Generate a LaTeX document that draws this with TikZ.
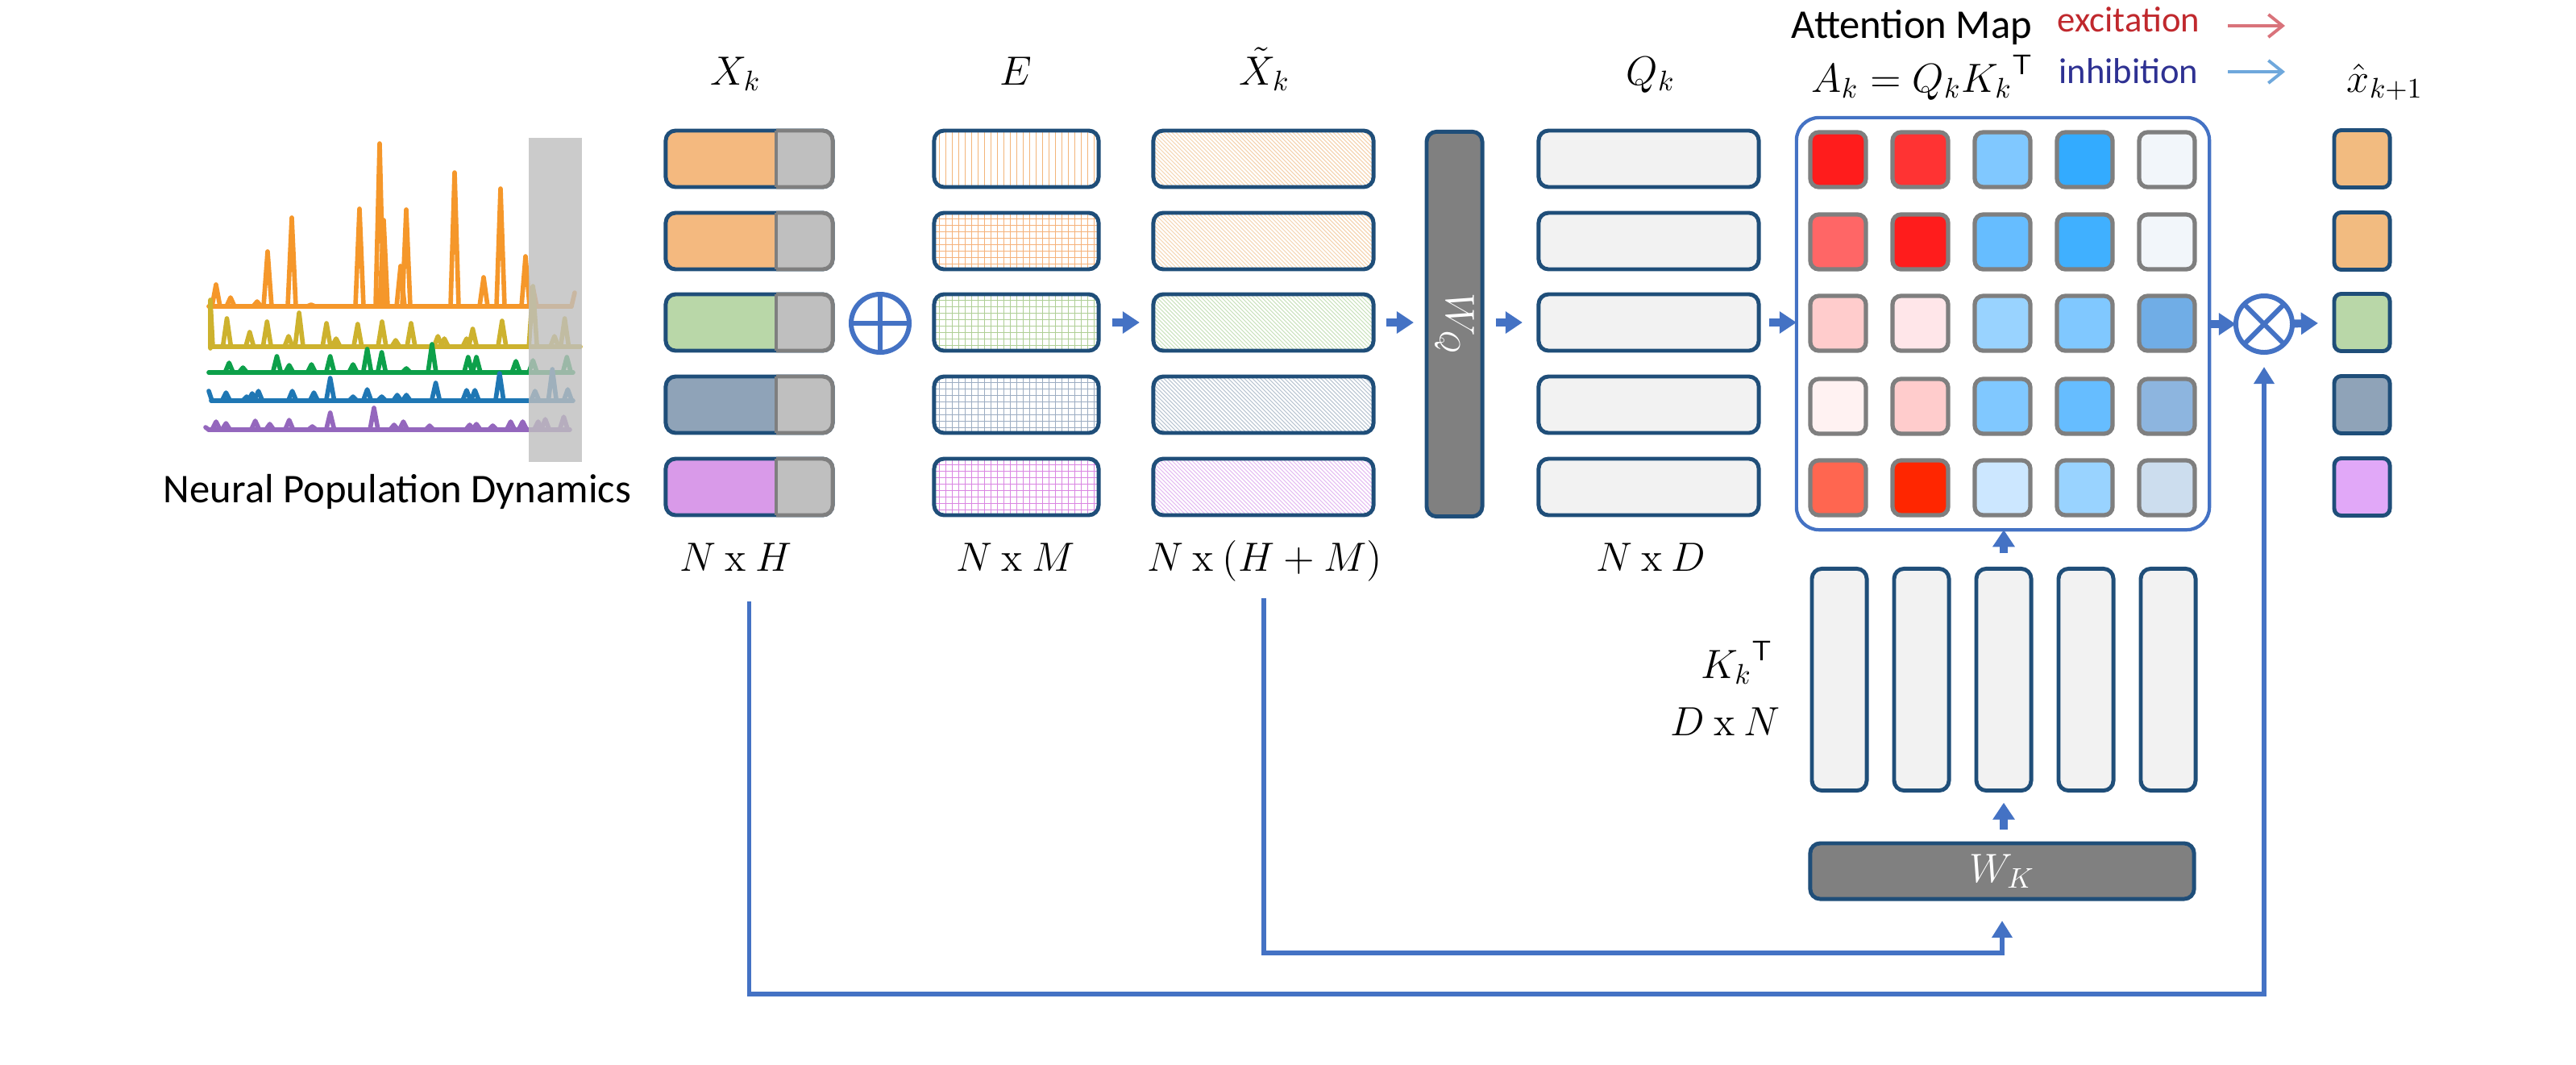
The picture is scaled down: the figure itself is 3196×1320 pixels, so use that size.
\documentclass[tikz,border=0pt]{standalone}
\usepackage[no-math]{fontspec}
\setmainfont{Carlito}
\usetikzlibrary{arrows.meta,calc}
\definecolor{dkblue}{HTML}{1F4E79}
\definecolor{abl}{HTML}{4472C4}
\definecolor{gbord}{HTML}{7F7F7F}
\definecolor{gfill}{HTML}{BFBFBF}
\definecolor{qfill}{HTML}{F2F2F2}
\definecolor{wfill}{HTML}{808080}
\definecolor{tor}{HTML}{F5972A}
\definecolor{tol}{HTML}{CDB22E}
\definecolor{tgr}{HTML}{0DA04A}
\definecolor{tbl}{HTML}{1F77B4}
\definecolor{tpu}{HTML}{9467BD}
\definecolor{excol}{HTML}{C0282D}
\definecolor{incol}{HTML}{2E3192}
\definecolor{exarr}{HTML}{D9737B}
\definecolor{inarr}{HTML}{6FA8DC}
\tikzset{
 box/.style={draw=dkblue, line width=1.4pt, rounded corners=3.5pt, inner sep=0pt, outer sep=0pt},
 cell/.style={draw=gbord, line width=1.5pt, rounded corners=3pt, inner sep=0pt, outer sep=0pt, minimum width=0.69cm, minimum height=0.68cm},
 conn/.style={draw=abl, line width=1.7pt},
 blk/.style={draw=abl, line width=2.8pt, -{Triangle[length=6pt,width=7.5pt]}},
 ltip/.style={-{Triangle[length=6pt,width=7pt]}},
 trace/.style={line width=1.6pt, line join=round, line cap=round},
 mlab/.style={font=\fontsize{14pt}{16pt}\selectfont, inner sep=0pt},
 tlab/.style={font=\fontsize{14.4pt}{17pt}\selectfont, inner sep=0pt},
 leg/.style={font=\fontsize{12.7pt}{15pt}\selectfont, inner sep=0pt, anchor=base},
}
\newcommand{\spiketrain}[5]{%
 \draw[trace,#1] (#3,#2) -- (#4,#2);
 \foreach \sx/\sy in {#5}{\draw[trace,#1] (\sx-5,#2) -- (\sx,\sy) -- (\sx+5,#2);}
}
\begin{document}
\begin{tikzpicture}[x=0.01cm,y=-0.01cm]
\fill[white] (0,0) rectangle (3196,1320);
\useasboundingbox (0,0) rectangle (3196,1320);

% ---- neural traces
\spiketrain{tor}{380}{259}{709}{268/353, 286/369, 319/374, 332/312, 362/270, 386/378, 446/259, 471/178, 476/273, 497/330, 504/260, 564/214, 600/344, 621/234, 652/318, 661/356}
\draw[trace,tor] (709,380) -- (713,363);
\draw[trace,tol] (261,432) -- (261,372) -- (264,430);
\spiketrain{tol}{430}{261}{720}{281.5/395, 309.8/412, 331.3/399, 358/417, 371.1/388, 405.1/401, 417/420, 443.8/402, 474/399, 490.9/422, 510/401, 543.3/417, 551.3/420, 578.9/420, 586.5/408, 622.9/398, 661.2/355, 687.9/417, 700.6/395}
\spiketrain{tgr}{462}{259}{711}{284.2/450, 301.4/456, 343.5/442, 358.8/453, 386.4/452, 409.7/442, 438/452, 455.6/433, 473.6/437, 504.2/457, 536/427, 580.8/443, 591.1/443, 640.1/448, 661.2/447, 703.3/443}
\draw[trace,tbl] (259,485) -- (263,497);
\spiketrain{tbl}{497}{262}{711}{280.4/487, 306/492, 312.9/488, 320.6/485, 362.6/485, 389.4/487, 409.7/469, 438/492, 455.6/483, 473.6/492, 492.8/490, 504.2/490, 540.6/475, 578.9/484, 589.2/484, 619.8/463, 663.8/485, 685.3/458, 704.4/483}
\draw[trace,tpu] (255,530) -- (259,533);
\spiketrain{tpu}{533}{259}{707}{268.1/523, 280.4/525, 316.7/522, 334.7/526, 358.8/521, 387.5/529, 409.7/512, 464/506, 488.9/527, 500.4/523, 533/528, 582.7/527, 591.1/526, 611.4/528, 633.6/523, 648.5/523, 667.7/523, 676.5/520, 699.4/517}
\fill[gfill, opacity=0.8] (656,171) rectangle (722,573);
\node[tlab, anchor=base] (npd) at (493,623) {Neural Population Dynamics};

% ---- X_k column
\foreach \i/\cy/\hex in {1/197/F4B97F, 2/299/F4B97F, 3/400/B9D7A8, 4/502/8FA3B8, 5/604/D99AE9}{
 \definecolor{tmpc}{HTML}{\hex}
 \node[box, fill=tmpc, minimum width=2.07cm, minimum height=0.70cm] (xk\i) at (929.5,\cy) {};
 \begin{scope}
  \clip[rounded corners=3.5pt] (xk\i.north west) rectangle (xk\i.south east);
  \fill[gfill] (963,\cy-40) rectangle (1040,\cy+40);
 \end{scope}
 \begin{scope}
  \clip (963,\cy-50) rectangle (1050,\cy+50);
  \draw[draw=gbord, line width=1.4pt, rounded corners=3.5pt] (xk\i.north west) rectangle (xk\i.south east);
 \end{scope}
 \draw[gbord, line width=1.4pt] (963,\cy-35) -- (963,\cy+35);
}

% ---- E column (grid patterns, node-relative coordinates)
\foreach \i/\cy/\hex in {1/197/F3B57A, 2/299/F5B27A, 3/400/AFCF96, 4/502/9DADC2, 5/604/DA86E2}{
 \definecolor{tmpc}{HTML}{\hex}
 \node[box, fill=white, minimum width=2.04cm, minimum height=0.70cm, path picture={
   \foreach \u in {-96,-88,...,98} \draw[tmpc, line width=0.25pt] (\u,-40) -- (\u,40);
   \ifnum\i>1 \foreach \v in {-28,-20,...,33} \draw[tmpc, line width=0.25pt] (-110,\v) -- (110,\v); \fi
 }] (e\i) at (1261,\cy) {};
}

% ---- X tilde column (diagonal hatching)
\foreach \i/\cy/\lhex in {1/197/F5D2AE, 2/299/F5D2AE, 3/400/C4DFB6, 4/502/B0BECC, 5/604/E2B4F1}{
 \definecolor{tmpl}{HTML}{\lhex}
 \node[box, fill=white, minimum width=2.73cm, minimum height=0.70cm, path picture={
   \foreach \u in {-226,-221,...,146} \draw[tmpl, line width=0.3pt] (\u,-40) -- (\u+80,40);
 }] (xt\i) at (1567.5,\cy) {};
}

% ---- W_Q
\node[box, fill=wfill, minimum width=0.69cm, minimum height=4.77cm] (wq) at (1804.5,402) {};
\node[mlab, text=white, rotate=-90] (wql) at (wq) {$W_Q$};

% ---- Q column
\foreach \i/\cy in {1/197, 2/299, 3/400, 4/502, 5/604}{
 \node[box, fill=qfill, minimum width=2.73cm, minimum height=0.70cm] (q\i) at (2045.5,\cy) {};
}

% ---- attention map
\node[draw=abl, line width=1.2pt, rounded corners=8pt, minimum width=5.12cm, minimum height=5.11cm, inner sep=0pt, outer sep=0pt] (attn) at (2485,401.5) {};
\foreach \i/\cy/\ca/\cb/\cc/\cd/\ce in {1/198/FF1C1C/FF3333/80C8FF/33ABFF/F2F6FA, 2/300/FF6666/FF1C1C/66BDFF/40B0FF/F2F6FA, 3/401/FFCCCC/FFE6E9/99D3FF/80C8FF/70ADE6, 4/504/FFF2F2/FFCCCC/80C8FF/66BDFF/8DB5DF, 5/605/FF6650/FF2600/CCE7FF/99D3FF/CCDDEE}{
 \definecolor{cca}{HTML}{\ca}\definecolor{ccb}{HTML}{\cb}\definecolor{ccc}{HTML}{\cc}\definecolor{ccd}{HTML}{\cd}\definecolor{cce}{HTML}{\ce}
 \node[cell, fill=cca] (a\i1) at (2280.5,\cy) {};
 \node[cell, fill=ccb] (a\i2) at (2382.5,\cy) {};
 \node[cell, fill=ccc] (a\i3) at (2484.5,\cy) {};
 \node[cell, fill=ccd] (a\i4) at (2586.5,\cy) {};
 \node[cell, fill=cce] (a\i5) at (2688.5,\cy) {};
}

% ---- output column
\foreach \i/\cy/\hex in {1/197/F2BB80, 2/299/F2BB80, 3/400/B9D7A8, 4/502/8FA3B8, 5/604/E1A8F8}{
 \definecolor{tmpc}{HTML}{\hex}
 \node[box, fill=tmpc, minimum width=0.69cm, minimum height=0.71cm, rounded corners=2.5pt] (o\i) at (2930.5,\cy) {};
}

% ---- K columns and W_K
\foreach \j/\cx in {1/2282, 2/2384, 3/2486, 4/2588, 5/2690}{
 \node[box, fill=qfill, minimum width=0.68cm, minimum height=2.75cm] (k\j) at (\cx,843) {};
}
\node[box, fill=wfill, minimum width=4.76cm, minimum height=0.69cm] (wk) at (2484,1080.5) {};
\node[mlab, text=white] (wkl) at (wk) {$W_K$};

% ---- operators
\node[circle, draw=abl, line width=1.7pt, minimum size=0.72cm, inner sep=0pt, outer sep=0pt] (op) at (1092,401) {};
\draw[abl, line width=1.7pt] (op.north) -- (op.south) (op.west) -- (op.east);
\node[circle, draw=abl, line width=1.7pt, minimum size=0.70cm, inner sep=0pt, outer sep=0pt] (ot) at (2809,402) {};
\draw[abl, line width=1.7pt] (ot.north west) -- (ot.south east) (ot.north east) -- (ot.south west);

% ---- labels
\node[mlab, anchor=base] (lxk) at (913,105) {$X_k$};
\node[mlab, anchor=base] (le) at (1260,105) {$E$};
\node[mlab, anchor=base] (lxt) at (1569,105) {$\tilde{X}_k$};
\node[mlab, anchor=base] (lq) at (2048,105) {$Q_k$};
\node[mlab, anchor=base] (lo) at (2959,114) {$\hat{x}_{k+1}$};
\node[mlab, anchor=base] (nh) at (913,708) {$N\ \mathrm{x}\ H$};
\node[mlab, anchor=base] (nm) at (1260,708) {$N\ \mathrm{x}\ M$};
\node[mlab, anchor=base] (nhm) at (1569,708) {$N\ \mathrm{x}\ (H+M)$};
\node[mlab, anchor=base] (nd) at (2048,708) {$N\ \mathrm{x}\ D$};
\node[mlab, anchor=base east] (lk) at (2200,841) {${K_k}^{\mathsf{T}}$};
\node[mlab, anchor=base east] (ldn) at (2209,912) {$D\ \mathrm{x}\ N$};

% ---- legend
\node[tlab, anchor=base] (am) at (2372,47) {Attention Map};
\node[mlab, anchor=base] (aeq) at (2385,114) {$A_k = Q_k {K_k}^{\mathsf{T}}$};
\node[leg, text=excol] (ex) at (2641,39) {excitation};
\node[leg, text=incol] (inh) at (2641,103) {inhibition};
\coordinate (ea) at (2764,32); \coordinate (eb) at (2835,32);
\coordinate (ia) at (2764,89); \coordinate (ib) at (2835,89);
\draw[exarr, line width=1.1pt, -{Straight Barb[length=5pt,width=8pt]}] (ea) -- (eb);
\draw[inarr, line width=1.1pt, -{Straight Barb[length=5pt,width=8pt]}] (ia) -- (ib);

% ---- short arrows
\draw[blk, shorten <=0.17cm, shorten >=0.17cm] (e3) -- (xt3);
\draw[blk, shorten <=0.16cm, shorten >=0.16cm] (xt3) -- (wq.west |- xt3);
\draw[blk, shorten <=0.17cm, shorten >=0.2cm] (wq.east |- q3) -- (q3);
\draw[blk, shorten <=0.13cm] (q3) -- (attn.west |- q3);
\draw[blk] (attn.east |- ot) -- (ot);
\draw[blk, shorten >=0.2cm] (ot) -- (o3);
\draw[blk, shorten <=0.19cm] (k3.north) -- (k3.north |- attn.south);
\draw[blk, shorten <=0.17cm, shorten >=0.15cm] (wk.north -| k3) -- (k3.south);

% ---- long connectors
\coordinate (c1) at (929.5,746);
\draw[conn, ltip] (c1) -- (929.5,1233) -| ([yshift=-0.18cm]ot.south);
\coordinate (c2) at (1567.5,742);
\draw[conn, ltip] (c2) -- (1567.5,1182) -| ([yshift=-0.27cm]wk.south);
\end{tikzpicture}
\end{document}
